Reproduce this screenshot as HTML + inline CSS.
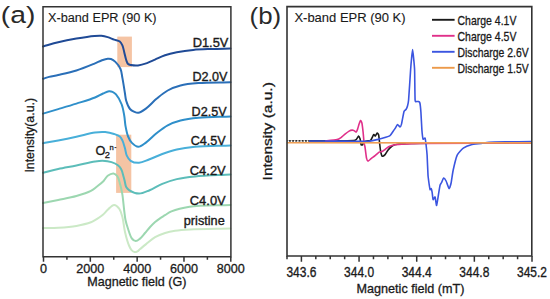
<!DOCTYPE html>
<html><head><meta charset="utf-8"><style>
html,body{margin:0;padding:0;background:#fff;width:550px;height:299px;overflow:hidden}
</style></head><body>
<svg width="550" height="299" viewBox="0 0 550 299" style="display:block" font-family='"Liberation Sans", sans-serif'>
<rect width="550" height="299" fill="#fff"/>
<text x="0.8" y="23.3" font-size="24.5" text-anchor="start" fill="#2a2a2a"  textLength="34.5" lengthAdjust="spacingAndGlyphs">(a)</text>
<text x="249.6" y="24.0" font-size="24.5" text-anchor="start" fill="#2a2a2a"  textLength="31.6" lengthAdjust="spacingAndGlyphs">(b)</text>
<rect x="117.3" y="36.6" width="14.6" height="30.5" fill="#f5c4a4"/>
<rect x="116.1" y="134.7" width="15.2" height="58.2" fill="#f5c4a4"/>
<path d="M43.00,228.10 C48.07,227.97 52.91,228.03 58.20,227.70 C64.00,227.34 70.71,226.88 76.40,225.90 C81.54,225.01 87.60,223.57 90.90,222.30 C92.74,221.59 93.45,221.03 95.00,220.10 C97.17,218.79 100.36,216.86 102.60,215.00 C104.65,213.30 106.08,211.19 108.00,209.50 C109.91,207.82 112.16,204.91 114.10,204.90 C115.87,204.89 117.87,206.94 119.20,208.70 C120.78,210.78 121.51,213.78 122.40,217.00 C123.57,221.22 123.87,227.16 125.00,232.00 C126.09,236.65 127.62,242.24 129.00,245.50 C129.85,247.50 130.54,248.96 131.60,250.10 C132.47,251.04 133.57,251.93 134.60,252.10 C135.54,252.25 136.61,251.77 137.50,251.30 C138.45,250.80 139.05,249.98 140.10,249.10 C141.69,247.77 143.88,245.88 146.10,244.10 C148.78,241.96 151.89,239.06 155.10,237.20 C158.24,235.38 161.72,234.07 165.10,233.00 C168.39,231.96 171.42,231.36 175.10,230.80 C179.55,230.12 183.81,229.84 190.00,229.50 C200.19,228.94 217.00,228.90 230.50,228.60" fill="none" stroke="#cbe9c6" stroke-width="2" stroke-linecap="round"/>
<path d="M43.00,203.10 C48.07,202.07 52.91,201.12 58.20,200.00 C64.00,198.77 70.72,197.62 76.40,196.00 C81.56,194.53 87.20,192.83 90.90,190.90 C93.49,189.55 94.95,188.09 97.00,186.50 C99.19,184.80 101.74,182.91 103.60,181.00 C105.23,179.32 106.02,177.05 107.70,175.80 C109.33,174.58 111.81,173.31 113.50,173.50 C114.95,173.66 116.30,174.81 117.30,176.10 C118.57,177.74 119.14,180.96 119.80,183.10 C120.35,184.87 120.69,186.23 121.10,188.00 C121.57,190.05 121.98,191.96 122.40,194.70 C123.06,198.99 123.71,206.66 124.30,211.30 C124.72,214.67 124.88,217.10 125.50,220.00 C126.14,223.00 127.06,225.99 128.10,229.00 C129.18,232.15 130.26,236.46 131.90,238.50 C133.00,239.87 134.38,241.05 135.70,241.10 C137.07,241.15 138.60,239.74 140.00,238.60 C141.72,237.20 143.34,234.91 145.00,233.00 C146.70,231.04 148.37,228.88 150.10,227.00 C151.74,225.22 153.39,223.49 155.10,222.00 C156.69,220.61 158.33,219.44 160.00,218.30 C161.63,217.18 163.23,216.28 165.00,215.20 C167.00,213.99 168.62,212.56 171.40,211.40 C175.81,209.56 182.18,207.80 189.50,206.70 C200.34,205.07 216.83,205.50 230.50,204.90" fill="none" stroke="#9cd7b0" stroke-width="2" stroke-linecap="round"/>
<path d="M43.00,172.70 C48.07,171.50 52.89,170.25 58.20,169.10 C63.98,167.84 70.31,166.76 76.40,165.50 C82.57,164.23 90.15,162.24 95.00,161.50 C98.07,161.03 99.97,160.73 102.60,160.80 C105.45,160.88 108.84,161.26 111.50,162.10 C113.88,162.85 116.23,163.99 117.90,165.30 C119.29,166.39 120.21,167.51 121.10,169.10 C122.22,171.12 122.94,174.38 123.60,176.70 C124.15,178.61 124.46,180.25 124.90,182.00 C125.33,183.72 125.39,185.69 126.20,187.10 C126.95,188.41 127.90,189.37 129.40,190.30 C131.64,191.70 135.71,193.57 139.00,193.60 C142.44,193.64 145.97,191.69 149.60,190.20 C153.71,188.52 157.85,185.63 162.30,183.80 C166.90,181.91 171.64,180.31 176.80,179.10 C182.47,177.77 187.91,177.11 195.00,176.40 C204.86,175.41 218.67,175.13 230.50,174.50" fill="none" stroke="#5cbdb9" stroke-width="2" stroke-linecap="round"/>
<path d="M43.00,143.20 C48.07,142.30 52.91,141.51 58.20,140.50 C64.00,139.40 70.31,138.12 76.40,136.80 C82.58,135.46 89.70,133.21 95.00,132.50 C98.88,131.98 101.93,131.82 105.20,132.10 C108.28,132.36 111.50,133.16 114.10,134.00 C116.25,134.69 118.38,135.31 119.80,136.50 C121.03,137.53 121.63,138.82 122.40,140.40 C123.40,142.46 124.16,145.45 124.90,148.00 C125.63,150.52 125.77,153.39 126.80,155.60 C127.74,157.60 128.80,159.60 130.60,160.80 C132.68,162.19 136.10,162.92 139.00,162.80 C142.21,162.66 145.46,160.82 149.00,159.50 C153.14,157.96 157.73,155.65 162.30,154.00 C166.99,152.31 171.64,150.68 176.80,149.50 C182.48,148.21 187.91,147.45 195.00,146.80 C204.85,145.89 218.67,145.93 230.50,145.50" fill="none" stroke="#48afd9" stroke-width="2" stroke-linecap="round"/>
<path d="M43.00,113.60 C48.07,112.10 52.91,110.68 58.20,109.10 C64.00,107.37 70.31,105.52 76.40,103.60 C82.58,101.65 90.15,99.50 95.00,97.50 C98.28,96.15 100.50,94.60 103.00,93.50 C105.12,92.57 107.25,91.37 109.00,91.20 C110.30,91.07 111.39,91.32 112.50,91.80 C113.73,92.33 114.83,93.08 116.00,94.40 C117.90,96.56 120.32,100.92 121.70,104.50 C123.09,108.11 123.66,112.28 124.30,116.00 C124.89,119.43 124.89,122.65 125.50,126.00 C126.14,129.48 126.87,133.51 128.10,136.50 C129.12,138.98 130.20,141.18 131.90,142.90 C133.60,144.62 136.06,146.75 138.30,146.80 C140.71,146.85 143.25,144.47 145.90,142.60 C149.33,140.18 153.09,135.93 156.80,133.00 C160.36,130.19 163.78,127.38 167.70,125.30 C171.67,123.20 175.79,121.73 180.50,120.50 C185.95,119.07 191.70,118.36 198.60,117.70 C207.72,116.83 219.87,116.90 230.50,116.50" fill="none" stroke="#2f8fca" stroke-width="2" stroke-linecap="round"/>
<path d="M43.00,78.80 C45.03,78.17 46.85,77.48 49.10,76.90 C51.82,76.20 54.65,75.81 58.20,75.00 C63.23,73.85 70.40,72.38 76.40,70.50 C82.50,68.59 89.79,65.53 94.50,63.60 C97.56,62.34 99.64,61.14 102.00,60.30 C104.00,59.58 106.05,58.85 107.70,58.70 C108.94,58.59 109.87,58.61 111.00,59.00 C112.42,59.50 114.00,60.55 115.40,61.90 C117.21,63.64 119.33,66.37 120.50,69.00 C121.69,71.69 121.76,74.54 122.40,77.90 C123.23,82.26 124.20,88.81 124.90,93.00 C125.40,96.00 125.41,98.14 126.20,100.70 C127.05,103.47 128.40,107.14 130.00,109.00 C131.16,110.34 132.59,110.96 134.00,111.60 C135.36,112.22 136.71,112.99 138.30,112.80 C140.52,112.54 143.26,110.50 145.90,108.60 C149.35,106.12 153.09,101.67 156.80,98.60 C160.36,95.66 163.76,92.68 167.70,90.50 C171.66,88.31 175.78,86.71 180.50,85.50 C185.94,84.10 191.70,83.65 198.60,83.10 C207.72,82.37 219.87,82.50 230.50,82.20" fill="none" stroke="#2a6fb8" stroke-width="2" stroke-linecap="round"/>
<path d="M43.00,46.50 C48.07,45.10 52.88,43.57 58.20,42.30 C63.97,40.92 70.33,39.65 76.40,38.60 C82.43,37.56 89.89,36.40 94.50,36.00 C97.34,35.76 99.16,35.60 101.40,35.80 C103.56,35.99 105.62,36.48 107.70,37.10 C109.85,37.74 112.02,38.85 114.10,39.60 C116.05,40.30 118.39,40.42 119.80,41.50 C121.05,42.45 121.69,43.84 122.40,45.40 C123.28,47.34 123.68,50.02 124.30,52.40 C124.95,54.88 125.45,57.90 126.20,60.00 C126.77,61.58 127.18,63.18 128.10,64.00 C128.87,64.69 129.80,64.76 131.00,65.00 C132.81,65.36 135.54,65.64 138.00,65.40 C140.83,65.13 144.13,64.09 147.00,63.10 C149.79,62.14 152.18,60.82 155.00,59.60 C158.15,58.24 161.48,56.50 165.00,55.30 C168.72,54.03 172.52,53.15 176.80,52.30 C181.79,51.30 187.58,50.45 193.20,49.90 C199.10,49.32 205.26,49.22 211.40,49.00 C217.69,48.78 224.13,48.73 230.50,48.60" fill="none" stroke="#1f4a96" stroke-width="2" stroke-linecap="round"/>
<path d="M43,6.8 H230.9 V256.8 H43 Z" fill="none" stroke="#333" stroke-width="1.5"/>
<path d="M43.50,256.8 V261.8 M66.91,256.8 V259.8 M90.33,256.8 V261.8 M113.74,256.8 V259.8 M137.15,256.8 V261.8 M160.56,256.8 V259.8 M183.98,256.8 V261.8 M207.39,256.8 V259.8 M230.80,256.8 V261.8" stroke="#333" stroke-width="1.5"/>
<text x="43.50" y="273.0" font-size="12.6" text-anchor="middle" fill="#1a1a1a" stroke="#1a1a1a" stroke-width="0.3" >0</text>
<text x="90.33" y="273.0" font-size="12.6" text-anchor="middle" fill="#1a1a1a" stroke="#1a1a1a" stroke-width="0.3" >2000</text>
<text x="137.15" y="273.0" font-size="12.6" text-anchor="middle" fill="#1a1a1a" stroke="#1a1a1a" stroke-width="0.3" >4000</text>
<text x="183.98" y="273.0" font-size="12.6" text-anchor="middle" fill="#1a1a1a" stroke="#1a1a1a" stroke-width="0.3" >6000</text>
<text x="230.80" y="273.0" font-size="12.6" text-anchor="middle" fill="#1a1a1a" stroke="#1a1a1a" stroke-width="0.3" >8000</text>
<text x="136.8" y="285.6" font-size="12.6" text-anchor="middle" fill="#1a1a1a" stroke="#1a1a1a" stroke-width="0.3" textLength="99.2" lengthAdjust="spacingAndGlyphs">Magnetic field (G)</text>
<text transform="translate(33.8,135.3) rotate(-90)" x="0" y="0" font-size="12.8" text-anchor="middle" fill="#1a1a1a" stroke="#1a1a1a" stroke-width="0.3" textLength="74.6" lengthAdjust="spacingAndGlyphs">Intensity(a.u.)</text>
<text x="48.0" y="21.8" font-size="12.5" text-anchor="start" fill="#1a1a1a" stroke="#1a1a1a" stroke-width="0.12" textLength="108.6" lengthAdjust="spacingAndGlyphs">X-band EPR (90 K)</text>
<text x="192.70000000000002" y="47.2" font-size="12.1" text-anchor="start" fill="#1a1a1a" stroke="#1a1a1a" stroke-width="0.35" textLength="35.7" lengthAdjust="spacingAndGlyphs">D1.5V</text>
<text x="192.5" y="80.8" font-size="12.1" text-anchor="start" fill="#1a1a1a" stroke="#1a1a1a" stroke-width="0.35" textLength="35.0" lengthAdjust="spacingAndGlyphs">D2.0V</text>
<text x="191.60000000000002" y="115.7" font-size="12.1" text-anchor="start" fill="#1a1a1a" stroke="#1a1a1a" stroke-width="0.35" textLength="35.0" lengthAdjust="spacingAndGlyphs">D2.5V</text>
<text x="190.70000000000002" y="145.2" font-size="12.1" text-anchor="start" fill="#1a1a1a" stroke="#1a1a1a" stroke-width="0.35" textLength="35.0" lengthAdjust="spacingAndGlyphs">C4.5V</text>
<text x="189.8" y="174.7" font-size="12.1" text-anchor="start" fill="#1a1a1a" stroke="#1a1a1a" stroke-width="0.35" textLength="35.9" lengthAdjust="spacingAndGlyphs">C4.2V</text>
<text x="189.8" y="204.7" font-size="12.1" text-anchor="start" fill="#1a1a1a" stroke="#1a1a1a" stroke-width="0.35" textLength="35.9" lengthAdjust="spacingAndGlyphs">C4.0V</text>
<text x="183.8" y="224.79999999999998" font-size="12.1" text-anchor="start" fill="#1a1a1a" stroke="#1a1a1a" stroke-width="0.35" textLength="40.9" lengthAdjust="spacingAndGlyphs">pristine</text>
<text x="95.4" y="154.5" font-size="12.7" text-anchor="start" fill="#1a1a1a" stroke="#1a1a1a" stroke-width="0.3" >O</text>
<text x="104.8" y="157.9" font-size="9.3" text-anchor="start" fill="#1a1a1a" stroke="#1a1a1a" stroke-width="0.3" >2</text>
<text x="109.6" y="149.8" font-size="7.6" text-anchor="start" fill="#1a1a1a" stroke="#1a1a1a" stroke-width="0.3" >n</text>
<path d="M114.5,147.6 H116.4" stroke="#1a1a1a" stroke-width="0.9"/>
<path d="M287.00,140.90 C289.20,140.90 303.70,140.91 309.00,140.90 C314.30,140.89 335.39,140.86 340.00,140.80 C344.61,140.74 353.24,140.77 355.10,140.30 C356.96,139.83 358.10,136.22 358.60,136.10 C359.10,135.98 359.85,138.25 360.10,139.10 C360.35,139.95 360.86,144.03 361.10,144.60 C361.34,145.17 362.21,145.06 362.50,144.80 C362.79,144.54 363.55,142.38 364.00,142.00 C364.45,141.62 366.34,141.17 367.00,141.00 C367.66,140.83 369.93,140.94 370.60,140.30 C371.27,139.66 373.24,135.02 373.70,134.60 C374.16,134.18 374.85,136.25 375.20,136.10 C375.55,135.95 376.85,133.20 377.20,133.10 C377.55,133.00 378.45,134.01 378.70,135.10 C378.95,136.19 379.51,142.41 379.70,144.00 C379.89,145.59 380.36,149.79 380.60,151.00 C380.84,152.21 381.65,155.74 382.10,156.10 C382.55,156.46 384.50,155.21 385.10,154.60 C385.70,153.99 387.40,150.86 388.10,150.00 C388.80,149.14 391.19,146.58 392.10,146.00 C393.01,145.42 395.41,144.45 397.20,144.20 C398.99,143.95 406.72,143.60 410.00,143.50 C413.28,143.40 417.80,143.25 430.00,143.20 C442.20,143.15 521.80,143.02 532.00,143.00" fill="none" stroke="#1a1a1a" stroke-width="1.6" stroke-linejoin="round"/>
<path d="M287.5,141.3 H309.5" fill="none" stroke="#fff" stroke-width="2" stroke-dasharray="1.6 1.6"/>
<path d="M287.5,141.3 H309.5" fill="none" stroke="#777" stroke-width="1.0" stroke-dasharray="1.6 1.6" stroke-dashoffset="1.6"/>
<path d="M325.00,141.00 C326.20,140.86 335.40,139.94 337.00,139.60 C338.60,139.26 340.20,138.15 341.00,137.60 C341.80,137.05 344.19,134.75 345.00,134.10 C345.81,133.45 348.39,131.50 349.10,131.10 C349.81,130.70 351.60,130.15 352.10,130.10 C352.60,130.05 353.70,130.40 354.10,130.60 C354.50,130.80 355.75,132.25 356.10,132.10 C356.45,131.95 357.30,129.91 357.60,129.10 C357.90,128.29 358.80,124.86 359.10,124.00 C359.40,123.14 360.32,120.60 360.60,120.50 C360.88,120.40 361.65,121.84 361.90,123.00 C362.15,124.16 362.88,130.09 363.10,132.10 C363.32,134.11 363.91,141.61 364.10,143.10 C364.29,144.59 364.76,145.50 365.00,147.00 C365.24,148.50 366.19,156.69 366.50,158.10 C366.81,159.51 367.64,161.05 368.10,161.10 C368.56,161.15 370.40,159.15 371.10,158.60 C371.80,158.05 374.30,156.25 375.10,155.60 C375.90,154.95 378.40,152.50 379.10,152.10 C379.80,151.70 381.50,151.86 382.10,151.60 C382.70,151.34 384.40,150.01 385.10,149.50 C385.80,148.99 388.09,146.97 389.10,146.50 C390.11,146.03 393.59,145.05 395.20,144.80 C396.81,144.55 402.72,144.14 405.20,144.00 C407.68,143.86 407.32,143.50 420.00,143.40 C432.68,143.30 520.80,143.04 532.00,143.00" fill="none" stroke="#e0308a" stroke-width="1.6" stroke-linejoin="round"/>
<path d="M309.00,141.00 C311.17,141.01 331.17,141.08 335.00,141.10 C338.83,141.12 352.24,141.18 355.00,141.20 C357.76,141.22 366.25,141.43 368.10,141.30 C369.95,141.17 375.94,139.87 377.20,139.60 C378.46,139.33 382.13,138.43 383.20,138.10 C384.27,137.77 389.18,136.15 390.00,135.60 C390.82,135.05 392.58,132.08 393.00,131.50 C393.42,130.92 394.62,129.17 395.00,128.60 C395.38,128.03 397.08,124.74 397.50,124.60 C397.92,124.46 399.67,126.94 400.00,126.90 C400.33,126.86 401.17,125.38 401.50,124.10 C401.83,122.82 403.62,112.72 404.00,111.50 C404.38,110.28 405.71,109.96 406.00,109.50 C406.29,109.04 407.28,106.79 407.50,106.00 C407.72,105.21 408.34,103.00 408.60,100.00 C408.86,97.00 410.35,73.50 410.60,70.00 C410.85,66.50 411.43,59.71 411.60,58.00 C411.77,56.29 412.43,49.50 412.60,49.50 C412.77,49.50 413.43,56.29 413.60,58.00 C413.77,59.71 414.48,66.50 414.60,70.00 C414.73,73.50 414.93,97.38 415.10,100.00 C415.27,102.62 416.31,101.38 416.60,101.50 C416.89,101.62 418.33,101.38 418.60,101.50 C418.88,101.62 419.71,102.12 419.90,103.00 C420.09,103.88 420.73,109.75 420.90,112.00 C421.07,114.25 421.72,127.74 421.90,130.00 C422.08,132.26 422.83,138.43 423.10,139.10 C423.37,139.77 424.85,137.51 425.10,138.00 C425.35,138.49 425.93,143.58 426.10,145.00 C426.27,146.42 426.94,152.50 427.10,155.00 C427.26,157.50 427.83,172.58 428.00,175.00 C428.17,177.42 428.93,182.78 429.10,184.00 C429.28,185.22 429.93,189.22 430.10,189.60 C430.27,189.98 430.93,188.39 431.10,188.60 C431.27,188.81 431.93,191.18 432.10,192.10 C432.27,193.02 432.85,199.19 433.10,199.60 C433.35,200.01 434.81,196.51 435.10,197.00 C435.39,197.49 436.31,205.78 436.60,205.50 C436.89,205.22 438.31,195.31 438.60,193.60 C438.89,191.89 439.85,185.93 440.10,185.00 C440.35,184.07 441.31,183.08 441.60,182.50 C441.89,181.92 443.23,178.12 443.60,178.00 C443.98,177.88 445.64,180.12 446.10,181.00 C446.56,181.88 448.68,188.43 449.10,188.60 C449.52,188.77 450.76,184.55 451.10,183.00 C451.44,181.45 452.69,172.32 453.20,170.00 C453.71,167.68 456.36,156.92 457.20,155.10 C458.04,153.28 462.12,148.97 463.30,148.10 C464.48,147.23 469.80,145.08 471.30,144.70 C472.80,144.32 479.82,143.71 481.30,143.50 C482.78,143.29 487.02,142.34 489.00,142.20 C490.98,142.06 501.42,141.85 505.00,141.80 C508.58,141.75 529.75,141.62 532.00,141.60" fill="none" stroke="#3b55e0" stroke-width="1.6" stroke-linejoin="round"/>
<path d="M287.00,142.80 L532.00,142.90" fill="none" stroke="#ef9f55" stroke-width="1.6"/>
<path d="M287,6.6 H531.8 V256 H287 Z" fill="none" stroke="#333" stroke-width="1.6"/>
<path d="M287.00,256 V259.2 M301.41,256 V261.8 M315.82,256 V259.2 M330.24,256 V259.2 M344.65,256 V259.2 M359.06,256 V261.8 M373.47,256 V259.2 M387.88,256 V259.2 M402.29,256 V259.2 M416.71,256 V261.8 M431.12,256 V259.2 M445.53,256 V259.2 M459.94,256 V259.2 M474.35,256 V261.8 M488.76,256 V259.2 M503.18,256 V259.2 M517.59,256 V259.2 M532.00,256 V261.8" stroke="#333" stroke-width="1.5"/>
<text x="301.41" y="277.1" font-size="15.5" text-anchor="middle" fill="#1a1a1a" stroke="#1a1a1a" stroke-width="0.35" textLength="30.0" lengthAdjust="spacingAndGlyphs">343.6</text>
<text x="359.06" y="277.1" font-size="15.5" text-anchor="middle" fill="#1a1a1a" stroke="#1a1a1a" stroke-width="0.35" textLength="30.0" lengthAdjust="spacingAndGlyphs">344.0</text>
<text x="416.71" y="277.1" font-size="15.5" text-anchor="middle" fill="#1a1a1a" stroke="#1a1a1a" stroke-width="0.35" textLength="30.0" lengthAdjust="spacingAndGlyphs">344.4</text>
<text x="474.35" y="277.1" font-size="15.5" text-anchor="middle" fill="#1a1a1a" stroke="#1a1a1a" stroke-width="0.35" textLength="30.0" lengthAdjust="spacingAndGlyphs">344.8</text>
<text x="532.00" y="277.1" font-size="15.5" text-anchor="middle" fill="#1a1a1a" stroke="#1a1a1a" stroke-width="0.35" textLength="30.0" lengthAdjust="spacingAndGlyphs">345.2</text>
<text x="410.5" y="292.8" font-size="12.6" text-anchor="middle" fill="#1a1a1a" stroke="#1a1a1a" stroke-width="0.3" textLength="108" lengthAdjust="spacingAndGlyphs">Magnetic field (mT)</text>
<text transform="translate(272.4,131.3) rotate(-90)" x="0" y="0" font-size="12.5" text-anchor="middle" fill="#1a1a1a" stroke="#1a1a1a" stroke-width="0.3" textLength="98.2" lengthAdjust="spacingAndGlyphs">Intensity (a.u.)</text>
<text x="294.4" y="21.8" font-size="12.6" text-anchor="start" fill="#1a1a1a" stroke="#1a1a1a" stroke-width="0.12" textLength="111.2" lengthAdjust="spacingAndGlyphs">X-band EPR (90 K)</text>
<path d="M432,19.8 H454.6" stroke="#1a1a1a" stroke-width="1.9"/>
<text x="457.5" y="24.6" font-size="12.8" text-anchor="start" fill="#1a1a1a" stroke="#1a1a1a" stroke-width="0.3" textLength="58.9" lengthAdjust="spacingAndGlyphs">Charge 4.1V</text>
<path d="M432,35.8 H454.6" stroke="#e0308a" stroke-width="1.9"/>
<text x="457.5" y="40.6" font-size="12.8" text-anchor="start" fill="#1a1a1a" stroke="#1a1a1a" stroke-width="0.3" textLength="58.9" lengthAdjust="spacingAndGlyphs">Charge 4.5V</text>
<path d="M432,51.8 H454.6" stroke="#3b55e0" stroke-width="1.9"/>
<text x="457.5" y="56.6" font-size="12.8" text-anchor="start" fill="#1a1a1a" stroke="#1a1a1a" stroke-width="0.3" textLength="71.19999999999999" lengthAdjust="spacingAndGlyphs">Discharge 2.6V</text>
<path d="M432,67.8 H454.6" stroke="#ec9a4a" stroke-width="1.9"/>
<text x="457.5" y="72.6" font-size="12.8" text-anchor="start" fill="#1a1a1a" stroke="#1a1a1a" stroke-width="0.3" textLength="71.19999999999999" lengthAdjust="spacingAndGlyphs">Discharge 1.5V</text>
</svg>
</body></html>
